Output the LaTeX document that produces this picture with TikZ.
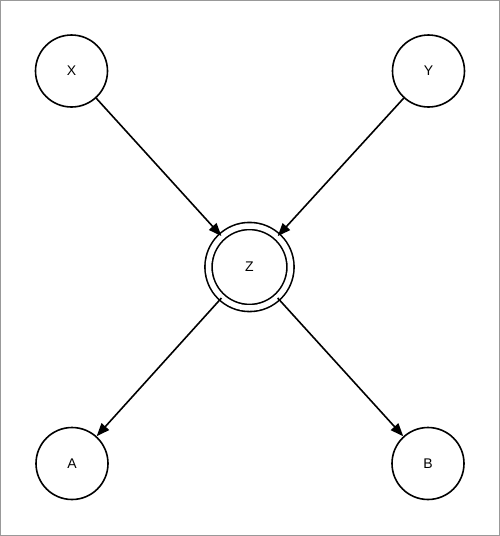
\documentclass[tikz,border=0pt]{standalone}
\usepackage{fontspec}
\setmainfont{Liberation Sans}
\usetikzlibrary{arrows.meta}
\begin{document}
\begin{tikzpicture}[x=1pt,y=-1pt,
  vnode/.style={circle,draw=black,line width=1.6pt,minimum size=72pt,inner sep=0pt,font=\fontsize{14}{16}\selectfont},
  dnode/.style={circle,draw=black,line width=1.6pt,double=white,double distance=5.5pt,minimum size=82pt,inner sep=0pt,font=\fontsize{14}{16}\selectfont},
  edge/.style={line width=1.6pt,-{Triangle[length=13pt,width=10pt]}}]
\draw[gray!80,line width=1pt] (0.5,0.5) rectangle (499.5,535.5);
\useasboundingbox (0,0) rectangle (500,536);
\node[vnode] (X) at (71.5,71) {X};
\node[vnode] (Y) at (428.5,71) {Y};
\node[dnode] (Z) at (249.5,267) {Z};
\node[vnode] (A) at (72,463.5) {A};
\node[vnode] (B) at (428,463.5) {B};
\draw[edge] (X) -- (Z);
\draw[edge] (Y) -- (Z);
\draw[edge] (Z) -- (A);
\draw[edge] (Z) -- (B);
\end{tikzpicture}
\end{document}
